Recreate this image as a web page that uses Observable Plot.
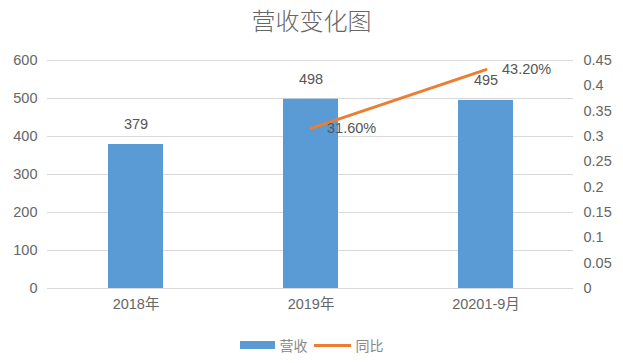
<!DOCTYPE html>
<html>
<head>
<meta charset="utf-8">
<script src="https://cdn.jsdelivr.net/npm/d3@7"></script>
<script src="https://cdn.jsdelivr.net/npm/@observablehq/plot@0.6"></script>
<style>
  html, body { margin: 0; padding: 0; background: #fff; }
  body { width: 623px; height: 363px; overflow: hidden; font-family: "Liberation Sans", "Noto Sans CJK SC", sans-serif; color: #666; }
  #title { height: 40px; line-height: 40px; text-align: center; font-family: "Noto Sans CJK SC", sans-serif; font-size: 24px; font-weight: 300; color: #666; }
  #legend { height: 50px; display: flex; justify-content: center; align-items: center; font-family: "Noto Sans CJK SC", sans-serif; font-size: 14px; color: #8a8a8a; }
  .sw { display: inline-block; }
</style>
</head>
<body>
<div id="title">营收变化图</div>
<div id="chart"></div>
<div id="legend">
  <span class="sw" style="width:35px;height:8px;background:#5b9bd5;margin-right:5px"></span><span style="margin-right:6px">营收</span>
  <span class="sw" style="width:37px;height:3px;background:#ed7d31;margin-right:5px"></span><span>同比</span>
</div>
<script>
const categories = ["2018年", "2019年", "20201-9月"];
const revenue = [379, 498, 495];
const yoy = [null, 0.316, 0.432];
const yoyLabels = [null, "31.60%", "43.20%"];
const leftTicks = [0, 100, 200, 300, 400, 500, 600];
const rightTicks = [0, 0.05, 0.1, 0.15, 0.2, 0.25, 0.3, 0.35, 0.4, 0.45];

const leftMax = 600, rightMax = 0.45;
const ratio = leftMax / rightMax;

const bars = categories.map((c, i) => ({cat: c, value: revenue[i]}));
const linePts = categories.map((c, i) => ({cat: c, v: yoy[i], label: yoyLabels[i]})).filter(d => d.v != null);

const chart = Plot.plot({
  width: 623,
  height: 280,
  marginTop: 20,
  marginBottom: 32,
  marginLeft: 47,
  marginRight: 50,
  style: {fontFamily: '"Liberation Sans", "Noto Sans CJK SC", sans-serif', fontSize: "14.5px", color: "#666", background: "white"},
  x: {domain: categories, paddingInner: 0.686, paddingOuter: 0.343, label: null},
  y: {domain: [0, leftMax], label: null},
  marks: [
    Plot.ruleY(leftTicks, {stroke: "#d9d9d9", strokeWidth: 1}),
    Plot.barY(bars, {x: "cat", y: "value", fill: "#5b9bd5"}),
    Plot.text(bars, {x: "cat", y: "value", text: d => String(d.value), dy: -20, fill: "#555", fontSize: 14.5}),
    Plot.line(linePts, {x: "cat", y: d => d.v * ratio, stroke: "#ed7d31", strokeWidth: 3, strokeLinecap: "round"}),
    Plot.text(linePts, {x: "cat", y: d => d.v * ratio, text: "label", textAnchor: "start", dx: 16, fill: "#555", fontSize: 14.5}),
    Plot.axisY(leftTicks, {anchor: "left", tickSize: 0, tickPadding: 10, label: null, fill: "#666"}),
    Plot.axisY(rightTicks.map(v => v * ratio), {anchor: "right", tickSize: 0, tickPadding: 10, label: null, fill: "#666", tickFormat: d => String(+(d / ratio).toFixed(2))}),
    Plot.axisX({tickSize: 0, tickPadding: 10, label: null, fill: "#666"})
  ]
});
document.getElementById("chart").appendChild(chart);
</script>
</body>
</html>
